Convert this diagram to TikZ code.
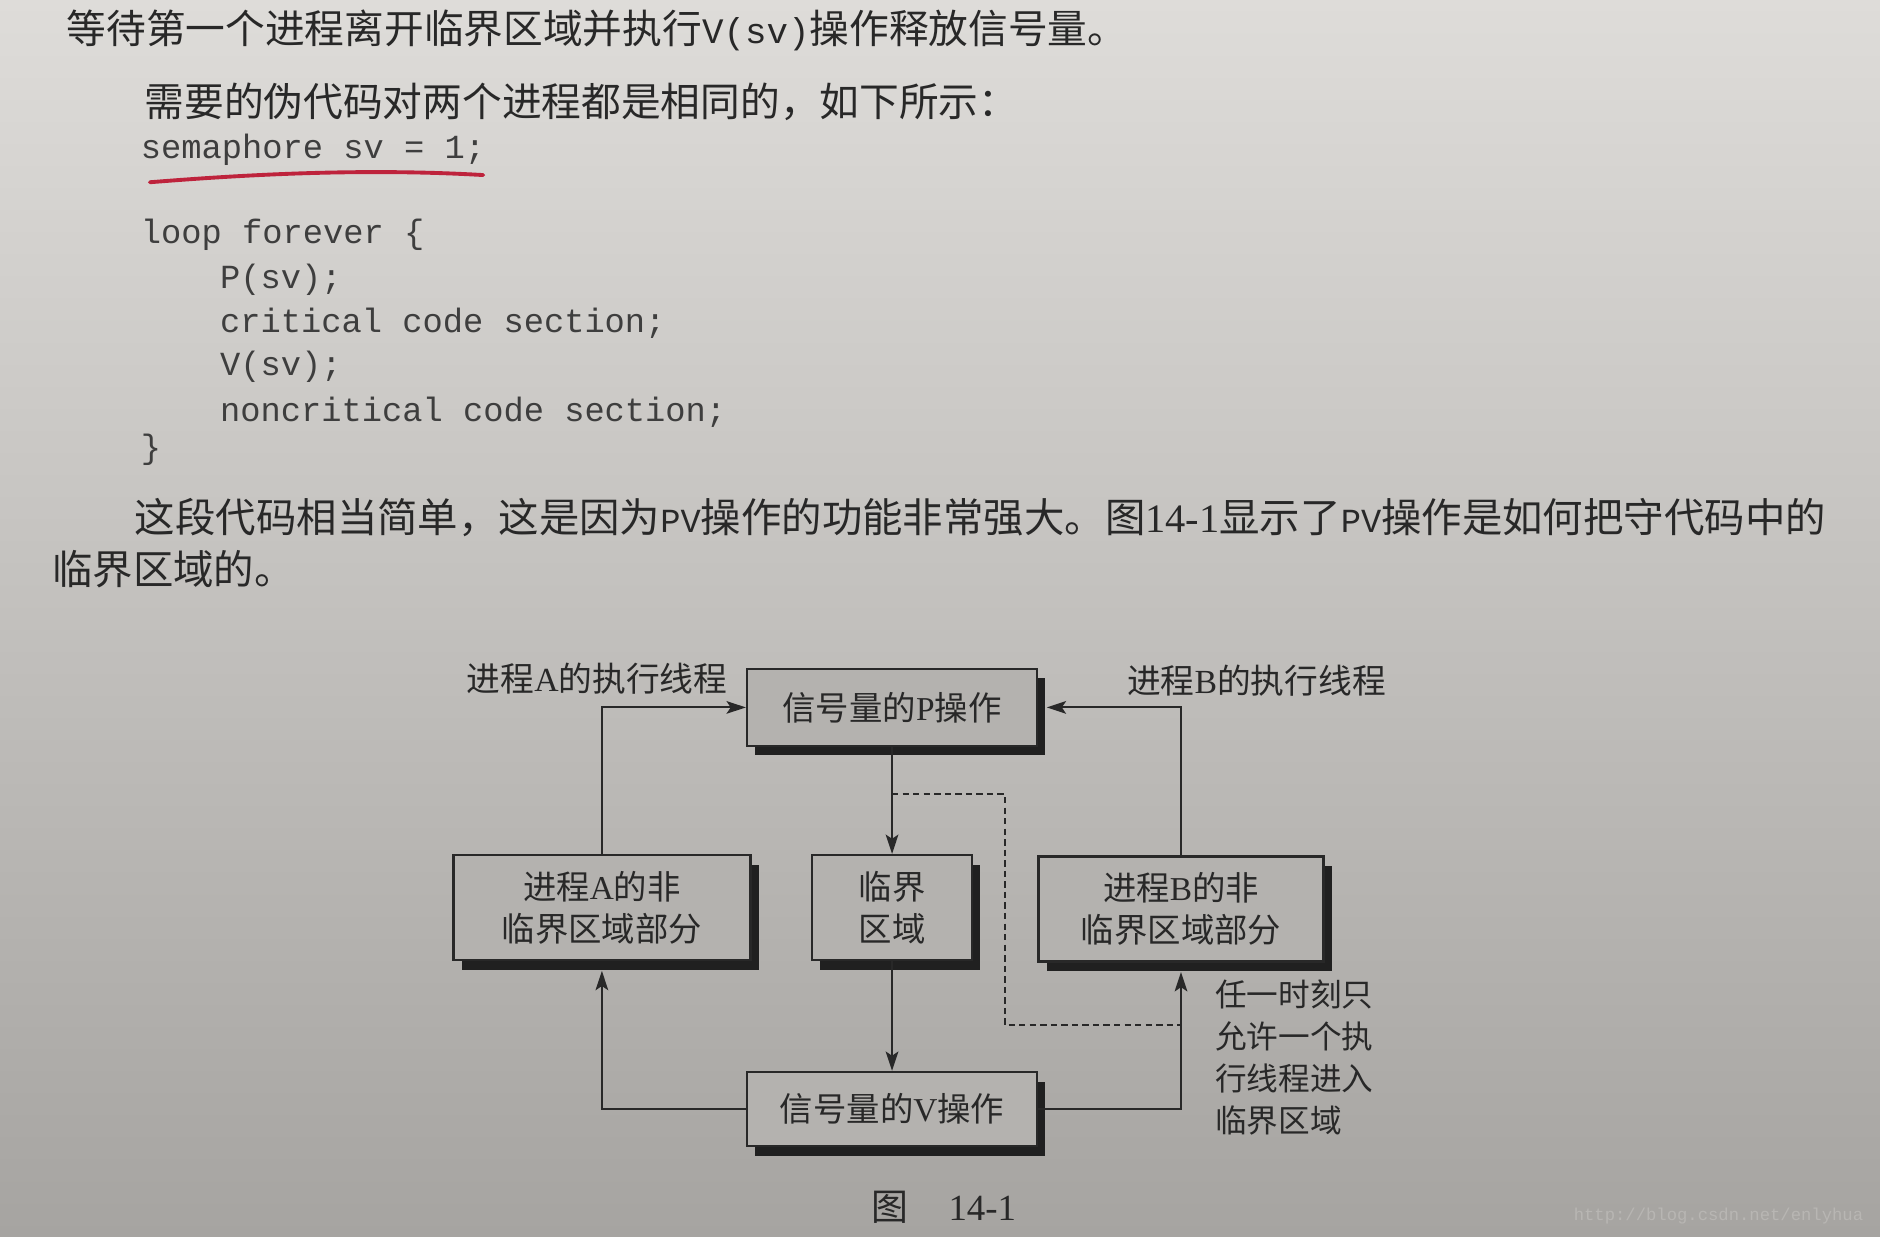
\documentclass[tikz,border=0pt]{standalone}
\usepackage{fontspec}
\setmainfont{Noto Sans CJK SC}
\setmonofont{Liberation Mono}
\newfontfamily\latin{Liberation Serif}
\usetikzlibrary{arrows.meta,shadows}

\definecolor{paperTop}{RGB}{222,220,217}
\definecolor{paperMid}{RGB}{204,202,199}
\definecolor{paperBottom}{RGB}{166,164,161}
\definecolor{inkgray}{RGB}{40,40,40}
\definecolor{codegray}{RGB}{62,62,62}
\definecolor{boxgray}{RGB}{180,178,175}
\definecolor{shadowgray}{RGB}{32,32,32}
\definecolor{redpen}{RGB}{190,35,60}
\definecolor{markgray}{RGB}{184,182,179}

\tikzset{
  body/.style={anchor=west,font=\fontsize{11.3}{13}\selectfont},
  code/.style={anchor=west,font=\fontsize{9.6}{11}\selectfont\ttfamily,text=codegray},
  tag/.style={font=\fontsize{9.6}{11.9}\selectfont},
  box/.style={draw=inkgray,line width=0.7pt,fill=boxgray,align=center,
    font=\fontsize{9.5}{11.9}\selectfont,
    drop shadow={shadow xshift=2.4pt,shadow yshift=-2.7pt,fill=shadowgray,opacity=1}},
  flow/.style={draw=inkgray,line width=0.6pt,-{Stealth[length=5.5pt,width=3.6pt,inset=1.2pt]}},
  dashline/.style={draw=inkgray,line width=0.6pt,dash pattern=on 1.8pt off 1.2pt}
}

\begin{document}
\begin{tikzpicture}[x=0.1199mm,y=-0.1199mm,every node/.style={inner sep=0pt,text=inkgray}]
% Page
\shade[top color=paperTop,middle color=paperMid,bottom color=paperBottom] (0,0) rectangle (1568,1031);
\useasboundingbox (0,0) rectangle (1568,1031);

% Text above the figure
\node[body] (line1) at (55,25) {等待第一个进程离开临界区域并执行{\ttfamily\fontsize{10.2}{11}\selectfont V(sv)}操作释放信号量。};
\node[body] (line2) at (120,85) {需要的伪代码对两个进程都是相同的，如下所示：};

% Pseudocode
\node[code] (code1) at (117,125) {semaphore sv = 1;};
\node[code] (code2) at (117,196) {loop forever \{};
\node[code] (code3) at (183,233) {P(sv);};
\node[code] (code4) at (183,270) {critical code section;};
\node[code] (code5) at (183,306) {V(sv);};
\node[code] (code6) at (183,344) {noncritical code section;};
\node[code] (code7) at (117,375) {\}};
\draw[redpen,line width=1.1pt,line cap=round] (125,152) .. controls (200,146) and (300,140) .. (403,146);

\node[body,font=\fontsize{11.5}{13}\selectfont] (line3) at (112,432) {这段代码相当简单，这是因为{\ttfamily\fontsize{9.6}{11}\selectfont PV}操作的功能非常强大。图{\latin 14-1}显示了{\ttfamily\fontsize{9.6}{11}\selectfont PV}操作是如何把守代码中的};
\node[body,font=\fontsize{11.5}{13}\selectfont] (line4) at (43,475) {临界区域的。};

% Boxes
\node[box,minimum width=29mm,minimum height=7.7mm] (P) at (744,590) {信号量的{\latin P}操作};
\node[box,minimum width=29.7mm,minimum height=10.5mm] (A) at (502,757) {进程{\latin A}的非\\临界区域部分};
\node[box,minimum width=16mm,minimum height=10.5mm] (crit) at (744,757) {临界\\区域};
\node[box,minimum width=28.5mm,minimum height=10.5mm] (B) at (985,758) {进程{\latin B}的非\\临界区域部分};
\node[box,minimum width=29mm,minimum height=7.4mm] (V) at (744,925) {信号量的{\latin V}操作};

% Labels
\node[tag] (threadA) at (498,566) {进程{\latin A}的执行线程};
\node[tag] (threadB) at (1048,568) {进程{\latin B}的执行线程};
\node[tag,anchor=west,align=left,font=\fontsize{9}{11.9}\selectfont] (note) at (1013,882) {任一时刻只\\允许一个执\\行线程进入\\临界区域};

% Flow
\draw[flow] (A.north) |- (P.west);
\draw[flow,shorten >=2.4pt] (B.north) |- (P.east);
\draw[flow] (P.south) -- (crit.north);
\draw[flow] (crit.south) -- (V.north);
\draw[flow,shorten >=2.7pt] (V.west) -| (A.south);
\draw[flow,shorten >=2.7pt] (V.east) -| (B.south);

% Dashed path
\coordinate (dash-a) at (744,662);
\coordinate (dash-b) at (838,855);
\coordinate (dash-c) at (985,855);
\draw[dashline] (dash-a) -| (dash-b) -- (dash-c);

% Caption
\node[font=\fontsize{10.5}{12}\selectfont] (fig) at (787,1007) {图\hspace{1.1em}{\latin 14-1}};
\node[anchor=west,font=\fontsize{4.9}{6}\selectfont\ttfamily,text=markgray] (wm) at (1312,1014) {http://blog.csdn.net/enlyhua};
\end{tikzpicture}
\end{document}
